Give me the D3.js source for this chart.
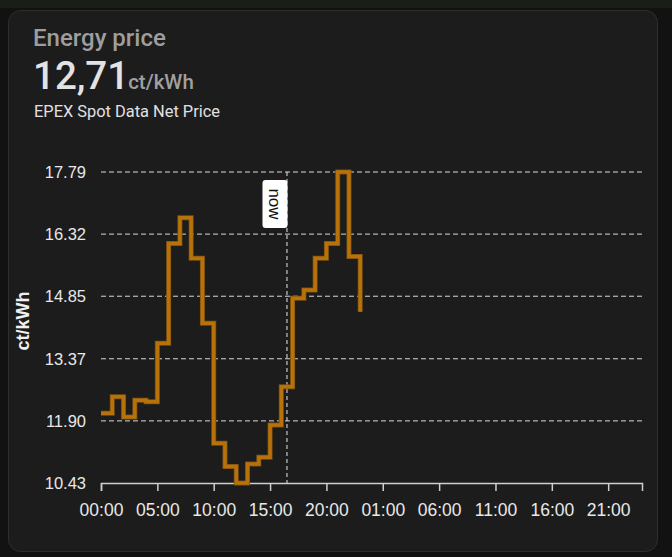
<!DOCTYPE html>
<html>
<head>
<meta charset="utf-8">
<script src="https://cdn.jsdelivr.net/npm/d3@7"></script>
<style>
  html, body { margin: 0; padding: 0; background: #121212; }
  svg { display: block; }
</style>
</head>
<body>
<script>
// hourly prices for today (ct/kWh), step line
const hours = [0, 1, 2, 3, 4, 5, 6, 7, 8, 9, 10, 11, 12, 13, 14, 15, 16, 17, 18, 19, 20, 21, 22, 23];
const prices = [12.08, 12.47, 11.99, 12.39, 12.35, 13.74, 16.10, 16.71, 15.75, 14.21, 11.37, 10.82,
    10.43, 10.88, 11.04, 11.80, 12.71, 14.80, 15.00, 15.75, 16.10, 17.79, 15.79, 14.48];
// axis ticks
const yTicks = [10.43, 11.90, 13.37, 14.85, 16.32, 17.79];
const xTicks = [0, 5, 10, 15, 20, 25, 30, 35, 40, 45];
const xTickLabels = ['00:00', '05:00', '10:00', '15:00', '20:00', '01:00', '06:00', '11:00', '16:00', '21:00'];
const nowHour = 16.5;
const currentPrice = '12,71';

const width = 672;
const height = 557;

const svg = d3.select('body').append('svg')
    .attr('width', width)
    .attr('height', height);

// page background + top bar
svg.append('rect').attr('width', width).attr('height', height).attr('fill', '#121212');
svg.append('rect').attr('width', width).attr('height', 8).attr('fill', '#191e17');

// card
svg.append('rect')
    .attr('x', 8.5).attr('y', 10.5)
    .attr('width', 649).attr('height', 541)
    .attr('rx', 12)
    .attr('fill', '#1c1c1c')
    .attr('stroke', '#2e2e2e');

// header
svg.append('text')
    .attr('x', 33).attr('y', 46)
    .attr('font-family', 'Roboto')
    .attr('font-weight', 500)
    .attr('font-size', 24)
    .attr('fill', '#9e9e9e')
    .text('Energy price');

const big = svg.append('text')
    .attr('x', 33).attr('y', 89)
    .attr('font-family', 'Roboto');
big.append('tspan')
    .attr('font-size', 38.5)
    .attr('font-weight', 500)
    .attr('fill', '#e3e3e3')
    .text(currentPrice);
big.append('tspan')
    .attr('dx', -1)
    .attr('font-size', 20.5)
    .attr('font-weight', 500)
    .attr('fill', '#a0a0a0')
    .text('ct/kWh');

svg.append('text')
    .attr('x', 34).attr('y', 117)
    .attr('font-family', 'Roboto')
    .attr('font-size', 16.4)
    .attr('fill', '#e1e1e1')
    .text('EPEX Spot Data Net Price');

// chart area
const x = d3.scaleLinear().domain([0, 48]).range([101, 642]);
const y = d3.scaleLinear().domain([10.43, 17.79]).range([483, 172]);

const font = '"Liberation Sans", Arial, sans-serif';

// grid
svg.append('g')
    .selectAll('line')
    .data(yTicks.slice(1))
    .enter().append('line')
    .attr('x1', x(0)).attr('x2', x(48))
    .attr('y1', d => y(d)).attr('y2', d => y(d))
    .attr('stroke', '#d8d8d8')
    .attr('stroke-width', 1)
    .attr('stroke-dasharray', '5,3');

// y labels
svg.append('g')
    .selectAll('text')
    .data(yTicks)
    .enter().append('text')
    .attr('x', 86)
    .attr('y', d => y(d))
    .attr('dy', '0.36em')
    .attr('text-anchor', 'end')
    .attr('font-family', font)
    .attr('font-size', 16.5)
    .attr('fill', '#e8e8e8')
    .text(d => d.toFixed(2));

// y axis title
svg.append('text')
    .attr('transform', 'translate(29,321) rotate(-90)')
    .attr('text-anchor', 'middle')
    .attr('font-family', font)
    .attr('font-weight', 700)
    .attr('font-size', 18)
    .attr('fill', '#f0f0f0')
    .text('ct/kWh');

// x axis
const xAxis = d3.axisBottom(x)
    .tickValues(xTicks)
    .tickSize(8)
    .tickPadding(13)
    .tickFormat((d, i) => xTickLabels[i]);
const gx = svg.append('g')
    .attr('transform', `translate(0,${y(10.43)})`)
    .call(xAxis);
gx.select('.domain').attr('stroke', '#cfcfcf').attr('stroke-width', 1.5);
gx.selectAll('.tick line').attr('stroke', '#cfcfcf').attr('stroke-width', 1.5);
gx.selectAll('.tick text')
    .attr('font-family', font)
    .attr('font-size', 17.5)
    .attr('fill', '#e8e8e8');

// now marker
svg.append('line')
    .attr('x1', x(nowHour)).attr('x2', x(nowHour))
    .attr('y1', y(17.79)).attr('y2', y(10.43))
    .attr('stroke', '#e8e8e8')
    .attr('stroke-dasharray', '4,3');
svg.append('rect')
    .attr('x', x(nowHour) - 24.5).attr('y', 180)
    .attr('width', 25).attr('height', 48)
    .attr('rx', 3)
    .attr('fill', '#ffffff');
svg.append('text')
    .attr('transform', `translate(${x(nowHour) - 12},204) rotate(90)`)
    .attr('text-anchor', 'middle')
    .attr('dy', '0.35em')
    .attr('font-family', font)
    .attr('font-size', 17)
    .attr('fill', '#111')
    .text('now');

// price step line
const line = d3.line()
    .x((d, i) => x(hours[i]))
    .y(d => y(d))
    .curve(d3.curveStepAfter);
svg.append('path')
    .attr('d', line(prices))
    .attr('fill', 'none')
    .attr('stroke', '#7a4f10')
    .attr('stroke-width', 5);
svg.append('path')
    .attr('d', line(prices))
    .attr('fill', 'none')
    .attr('stroke', '#b8720a')
    .attr('stroke-width', 3.5);
</script>
</body>
</html>
